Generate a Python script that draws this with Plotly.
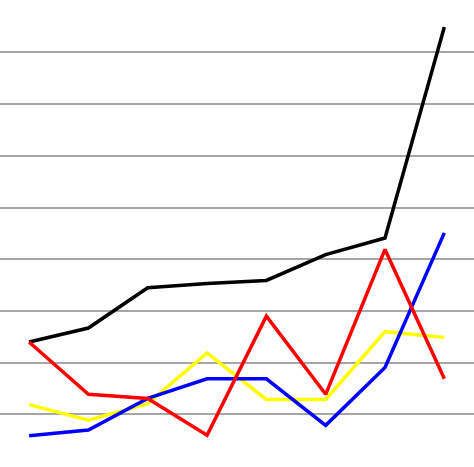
import plotly.graph_objects as go

points = list(range(8))

black_vals = [2.40, 2.67, 3.45, 3.53, 3.59, 4.09, 4.41, 8.49]
yellow_vals = [1.19, 0.89, 1.21, 2.19, 1.29, 1.29, 2.60, 2.49]
blue_vals = [0.59, 0.70, 1.31, 1.69, 1.69, 0.79, 1.91, 4.51]
red_vals = [2.40, 1.39, 1.31, 0.60, 2.90, 1.39, 4.19, 1.69]

series = [
    ("black", black_vals, "#000000"),
    ("yellow", yellow_vals, "#ffff00"),
    ("blue", blue_vals, "#0000ff"),
    ("red", red_vals, "#ff0000"),
]

fig = go.Figure()
for name, vals, color in series:
    fig.add_trace(go.Scatter(x=points, y=vals, mode="lines", name=name,
                             line=dict(color=color, width=3.5)))

fig.update_layout(
    width=474, height=467,
    margin=dict(l=0, r=0, t=0, b=0),
    paper_bgcolor="white", plot_bgcolor="white",
    showlegend=False,
)
fig.update_xaxes(range=[-0.49, 7.5], showgrid=False, zeroline=False,
                 showticklabels=False, ticks="")
fig.update_yaxes(range=[-0.015, 9.01], dtick=1, showgrid=True,
                 gridcolor="#a6a6a6", gridwidth=1.5, zeroline=False,
                 showticklabels=False, ticks="")

# page body has a default 8px margin; remove it so the chart fills the window
fig.write_html("out.html", config={"displayModeBar": False},
               post_script="document.body.style.margin='0';document.body.style.overflow='hidden';")
